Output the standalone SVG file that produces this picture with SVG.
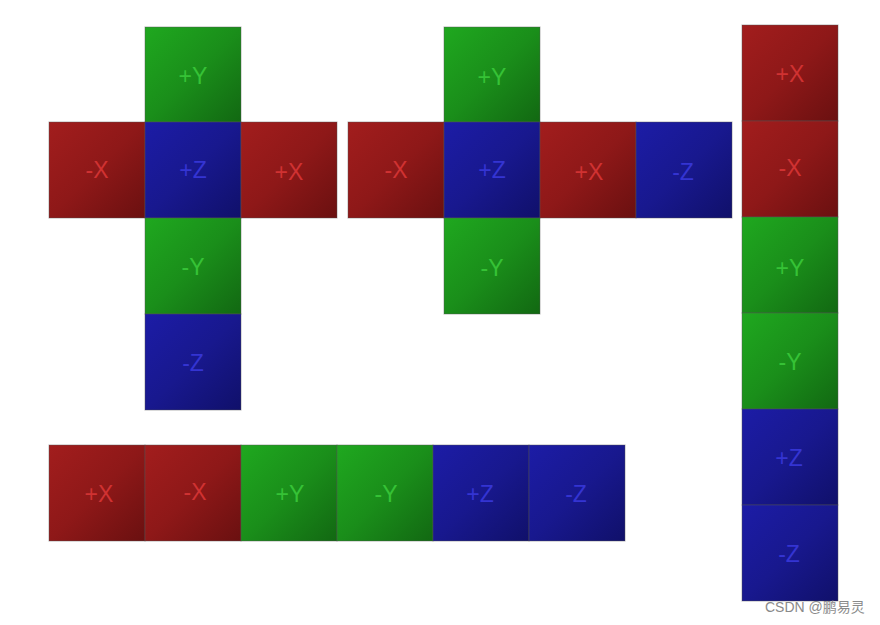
<svg xmlns="http://www.w3.org/2000/svg" width="880" height="625" viewBox="0 0 880 625">
<defs>
<linearGradient id="gr" x1="0" y1="0" x2="1" y2="1"><stop offset="0" stop-color="#a21d1d"/><stop offset="0.5" stop-color="#8e1818"/><stop offset="1" stop-color="#6a1010"/></linearGradient>
<linearGradient id="gg" x1="0" y1="0" x2="1" y2="1"><stop offset="0" stop-color="#1fa81f"/><stop offset="0.5" stop-color="#1a8e1a"/><stop offset="1" stop-color="#126812"/></linearGradient>
<linearGradient id="gb" x1="0" y1="0" x2="1" y2="1"><stop offset="0" stop-color="#1c1ca6"/><stop offset="0.5" stop-color="#18188e"/><stop offset="1" stop-color="#10106a"/></linearGradient>
</defs>
<style>
rect{stroke:#555;stroke-opacity:0.45;stroke-width:1}
.r{fill:url(#gr)} .g{fill:url(#gg)} .b{fill:url(#gb)}
text{font-family:"Liberation Sans",Arial,sans-serif;font-size:23px;text-anchor:middle;dominant-baseline:central}
.tr{fill:#d03232} .tg{fill:#36c236} .tb{fill:#3434d2}
.wm{font-family:"Liberation Sans","Noto Sans CJK SC",sans-serif;font-size:14px;fill:#8a8a8a;text-anchor:start}
</style>
<rect x="0" y="0" width="880" height="625" fill="#fff" style="stroke:none"/>
<g id="net1">
<g id="n1-py"><rect class="g" x="145" y="27" width="96" height="95"/><text class="tg" x="193" y="76">+Y</text></g>
<g id="n1-nx"><rect class="r" x="49" y="122" width="96" height="96"/><text class="tr" x="97" y="170">-X</text></g>
<g id="n1-pz"><rect class="b" x="145" y="122" width="96" height="96"/><text class="tb" x="193" y="170">+Z</text></g>
<g id="n1-px"><rect class="r" x="241" y="122" width="96" height="96"/><text class="tr" x="289" y="172">+X</text></g>
<g id="n1-ny"><rect class="g" x="145" y="218" width="96" height="96"/><text class="tg" x="193" y="267">-Y</text></g>
<g id="n1-nz"><rect class="b" x="145" y="314" width="96" height="96"/><text class="tb" x="193" y="363">-Z</text></g>
</g>
<g id="net2">
<g id="n2-py"><rect class="g" x="444" y="27" width="96" height="95"/><text class="tg" x="492" y="77">+Y</text></g>
<g id="n2-nx"><rect class="r" x="348" y="122" width="96" height="96"/><text class="tr" x="396" y="170">-X</text></g>
<g id="n2-pz"><rect class="b" x="444" y="122" width="96" height="96"/><text class="tb" x="492" y="170">+Z</text></g>
<g id="n2-px"><rect class="r" x="540" y="122" width="96" height="96"/><text class="tr" x="589" y="172">+X</text></g>
<g id="n2-nz"><rect class="b" x="636" y="122" width="96" height="96"/><text class="tb" x="683" y="172">-Z</text></g>
<g id="n2-ny"><rect class="g" x="444" y="218" width="96" height="96"/><text class="tg" x="492" y="268">-Y</text></g>
</g>
<g id="strip-v">
<g id="v-px"><rect class="r" x="742" y="25" width="96" height="96"/><text class="tr" x="790" y="74">+X</text></g>
<g id="v-nx"><rect class="r" x="742" y="121" width="96" height="96"/><text class="tr" x="790" y="168">-X</text></g>
<g id="v-py"><rect class="g" x="742" y="217" width="96" height="96"/><text class="tg" x="790" y="268">+Y</text></g>
<g id="v-ny"><rect class="g" x="742" y="313" width="96" height="96"/><text class="tg" x="790" y="362">-Y</text></g>
<g id="v-pz"><rect class="b" x="742" y="409" width="96" height="96"/><text class="tb" x="789" y="458">+Z</text></g>
<g id="v-nz"><rect class="b" x="742" y="505" width="96" height="96"/><text class="tb" x="789" y="554">-Z</text></g>
</g>
<g id="strip-h">
<g id="h-px"><rect class="r" x="49" y="445" width="96" height="96"/><text class="tr" x="99" y="494">+X</text></g>
<g id="h-nx"><rect class="r" x="145" y="445" width="96" height="96"/><text class="tr" x="195" y="492">-X</text></g>
<g id="h-py"><rect class="g" x="241" y="445" width="96" height="96"/><text class="tg" x="290" y="494">+Y</text></g>
<g id="h-ny"><rect class="g" x="337" y="445" width="96" height="96"/><text class="tg" x="386" y="494">-Y</text></g>
<g id="h-pz"><rect class="b" x="433" y="445" width="96" height="96"/><text class="tb" x="480" y="494">+Z</text></g>
<g id="h-nz"><rect class="b" x="529" y="445" width="96" height="96"/><text class="tb" x="576" y="494">-Z</text></g>
</g>
<g id="connectors"/>
<text class="wm" x="765" y="607">CSDN @鹏易灵</text>
</svg>
